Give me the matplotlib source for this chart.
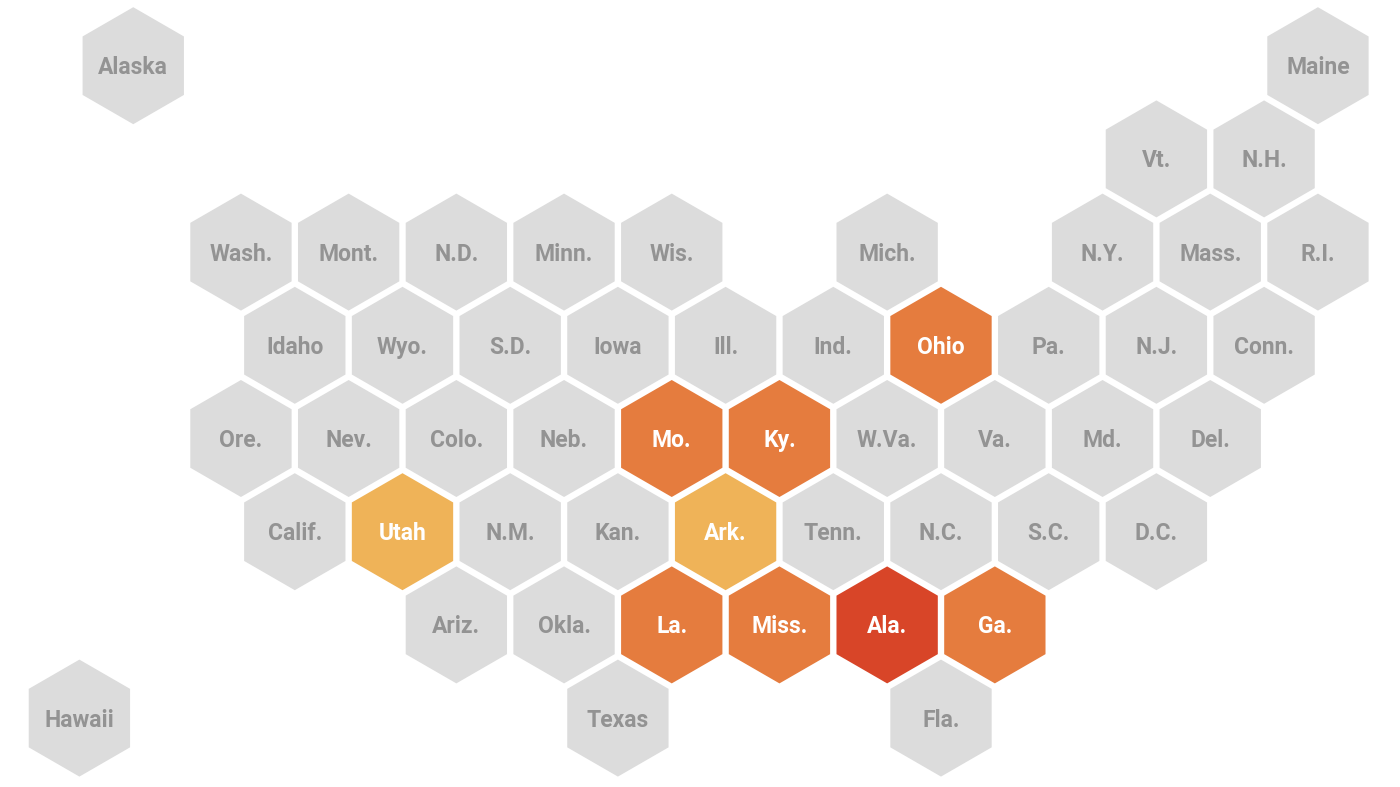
import numpy as np
import matplotlib
matplotlib.use("Agg")
import matplotlib.pyplot as plt
from matplotlib.patches import RegularPolygon

# ================= DATA =================
# each row of the hex grid: state labels, half-step columns, colour level
row0_names = ["Alaska", "Maine"]
row0_cols = [1, 23]
row0_levels = [0, 0]

row1_names = ["Vt.", "N.H."]
row1_cols = [20, 22]
row1_levels = [0, 0]

row2_names = ["Wash.", "Mont.", "N.D.", "Minn.", "Wis.", "Mich.", "N.Y.", "Mass.", "R.I."]
row2_cols = [3, 5, 7, 9, 11, 15, 19, 21, 23]
row2_levels = [0, 0, 0, 0, 0, 0, 0, 0, 0]

row3_names = ["Idaho", "Wyo.", "S.D.", "Iowa", "Ill.", "Ind.", "Ohio", "Pa.", "N.J.", "Conn."]
row3_cols = [4, 6, 8, 10, 12, 14, 16, 18, 20, 22]
row3_levels = [0, 0, 0, 0, 0, 0, 2, 0, 0, 0]

row4_names = ["Ore.", "Nev.", "Colo.", "Neb.", "Mo.", "Ky.", "W.Va.", "Va.", "Md.", "Del."]
row4_cols = [3, 5, 7, 9, 11, 13, 15, 17, 19, 21]
row4_levels = [0, 0, 0, 0, 2, 2, 0, 0, 0, 0]

row5_names = ["Calif.", "Utah", "N.M.", "Kan.", "Ark.", "Tenn.", "N.C.", "S.C.", "D.C."]
row5_cols = [4, 6, 8, 10, 12, 14, 16, 18, 20]
row5_levels = [0, 1, 0, 0, 1, 0, 0, 0, 0]

row6_names = ["Ariz.", "Okla.", "La.", "Miss.", "Ala.", "Ga."]
row6_cols = [7, 9, 11, 13, 15, 17]
row6_levels = [0, 0, 2, 2, 3, 2]

row7_names = ["Hawaii", "Texas", "Fla."]
row7_cols = [0, 10, 16]
row7_levels = [0, 0, 0]

names = [row0_names, row1_names, row2_names, row3_names, row4_names, row5_names, row6_names, row7_names]
cols = [row0_cols, row1_cols, row2_cols, row3_cols, row4_cols, row5_cols, row6_cols, row7_cols]
levels = [row0_levels, row1_levels, row2_levels, row3_levels, row4_levels, row5_levels, row6_levels, row7_levels]

# ================= STYLE =================
FILL = {0: "#dcdcdc", 1: "#efb358", 2: "#e57c3e", 3: "#d84528"}
LABEL = {0: "#939393", 1: "white", 2: "white", 3: "white"}
X0, DX = 79.4, 53.85
Y0, DY = 65.7, 93.2
RADIUS = 58.5

# ================= PLOT =================
fig = plt.figure(figsize=(14, 7.87), dpi=100)
ax = fig.add_axes([0, 0, 1, 1])
ax.set_xlim(0, 1400)
ax.set_ylim(787, 0)
ax.axis("off")

for r in range(len(names)):
    for name, col, level in zip(names[r], cols[r], levels[r]):
        x = X0 + DX * col
        y = Y0 + DY * r
        ax.add_patch(RegularPolygon((x, y), 6, radius=RADIUS, orientation=0,
                                    facecolor=FILL[level], edgecolor="none"))
        ax.text(x, y - 0.5, name, ha="center", va="center_baseline", fontsize=16.5,
                fontweight="bold", family="Roboto", color=LABEL[level])

fig.savefig("out.png", dpi=100)
